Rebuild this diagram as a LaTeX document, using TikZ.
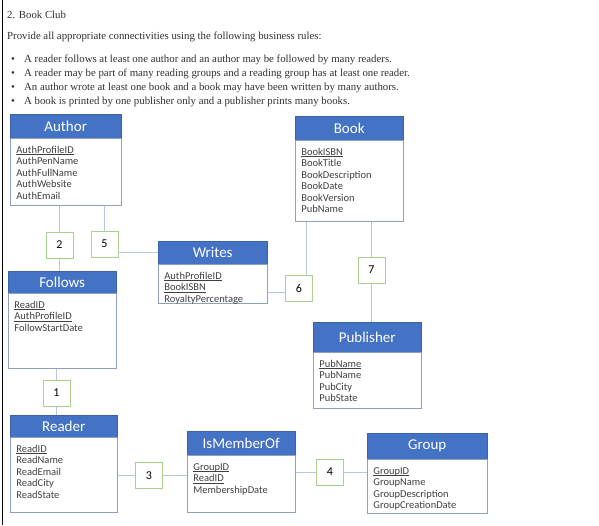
\documentclass[tikz,border=0pt]{standalone}
\usepackage{fontspec}
\setmainfont{Liberation Serif}
\newfontfamily\erdfont{Carlito}
\usepackage{tikz}
\usetikzlibrary{positioning,calc}

\definecolor{hdrblue}{HTML}{4472C4}
\definecolor{hdredge}{HTML}{3A62AA}
\definecolor{listedge}{HTML}{8EA0BC}
\definecolor{linkblue}{HTML}{B4C7E7}
\definecolor{relgreen}{HTML}{A9D18E}
\definecolor{bodytext}{HTML}{404040}
\definecolor{prose}{HTML}{303030}

% key attribute, underlined close to the baseline
\newcommand\pkey[1]{\leavevmode\setbox0\hbox{#1}\rlap{\rule[-1.3pt]{\wd0}{0.45pt}}\box0}

\begin{document}
\begin{tikzpicture}[
  x=1pt, y=-1pt,
  every node/.style={inner sep=0pt},
  prose/.style={anchor=base west, text=prose, font=\fontsize{10.8}{12}\selectfont},
  ent/.style={draw=hdredge, fill=hdrblue, text=white, anchor=north west,
    font=\erdfont\fontsize{15}{16}\selectfont},
  attrs/.style={draw=listedge, line width=0.8pt, fill=white, align=left,
    inner xsep=6pt, text height=14.5pt, text=bodytext,
    font=\erdfont\fontsize{10.5}{11.5}\selectfont},
  rel/.style={draw=relgreen, line width=0.8pt, fill=white, minimum width=27pt,
    minimum height=26pt, font=\erdfont\fontsize{12}{12}\selectfont},
  link/.style={draw=linkblue, line width=1pt}
]
\useasboundingbox (0,0) rectangle (599,525);
\draw[black, line width=0.8pt] (2,0) -- (2,525);

% business rules
\node[prose] (title) at (7,18) {2. Book Club};
\node[prose] (intro) at (7,39) {Provide all appropriate connectivities using the following business rules:};
\node[prose] (rule1) at (11,62) {\makebox[13pt][l]{\textbullet}A reader follows at least one author and an author may be followed by many readers.};
\node[prose] (rule2) at (11,76) {\makebox[13pt][l]{\textbullet}A reader may be part of many reading groups and a reading group has at least one reader.};
\node[prose] (rule3) at (11,90) {\makebox[13pt][l]{\textbullet}An author wrote at least one book and a book may have been written by many authors.};
\node[prose] (rule4) at (11,104) {\makebox[13pt][l]{\textbullet}A book is printed by one publisher only and a publisher prints many books.};

% entities
\node[ent, minimum width=111pt, minimum height=24pt] (author) at (10,114) {Author};
\node[attrs, text width=99pt, text depth=52.5pt, below right=0pt and 0pt of author.south west] (authorList)
  {\pkey{AuthProfileID}\\AuthPenName\\AuthFullName\\AuthWebsite\\AuthEmail};

\node[ent, minimum width=108pt, minimum height=24pt] (book) at (295,116) {Book};
\node[attrs, text width=96pt, text depth=66.5pt, below right=0pt and 0pt of book.south west] (bookList)
  {\pkey{BookISBN}\\BookTitle\\BookDescription\\BookDate\\BookVersion\\PubName};

\node[ent, minimum width=109pt, minimum height=23pt] (writes) at (158,241) {Writes};
\node[attrs, text width=97pt, text depth=24.5pt, below right=0pt and 0pt of writes.south west] (writesList)
  {\pkey{AuthProfileID}\\\pkey{BookISBN}\\RoyaltyPercentage};

\node[ent, minimum width=108pt, minimum height=22pt] (follows) at (8,271) {Follows};
\node[attrs, text width=96pt, text depth=60.5pt, below right=0pt and 0pt of follows.south west] (followsList)
  {\pkey{ReadID}\\\pkey{AuthProfileID}\\FollowStartDate};

\node[ent, minimum width=108pt, minimum height=30pt] (publisher) at (313,322) {Publisher};
\node[attrs, text width=96pt, text depth=41.5pt, below right=0pt and 0pt of publisher.south west] (publisherList)
  {\pkey{PubName}\\PubName\\PubCity\\PubState};

\node[ent, minimum width=107pt, minimum height=22pt] (reader) at (10,415) {Reader};
\node[attrs, text width=95pt, text depth=60.5pt, below right=0pt and 0pt of reader.south west] (readerList)
  {\pkey{ReadID}\\ReadName\\ReadEmail\\ReadCity\\ReadState};

\node[ent, minimum width=108pt, minimum height=24pt] (member) at (187,431) {IsMemberOf};
\node[attrs, text width=96pt, text depth=42.5pt, below right=0pt and 0pt of member.south west] (memberList)
  {\pkey{GroupID}\\\pkey{ReadID}\\MembershipDate};

\node[ent, minimum width=120pt, minimum height=26pt] (group) at (367,433) {Group};
\node[attrs, text width=108pt, text depth=39.5pt, below right=0pt and 0pt of group.south west] (groupList)
  {\pkey{GroupID}\\GroupName\\GroupDescription\\GroupCreationDate};

% relationships
\node[rel] (rel1) at (56.5,393) {1};
\node[rel] (rel2) at (59.5,245) {2};
\node[rel] (rel3) at (149,475.5) {3};
\node[rel] (rel4) at (330,472) {4};
\node[rel] (rel5) at (104.5,244) {5};
\node[rel] (rel6) at (299,288) {6};
\node[rel] (rel7) at (371.5,270) {7};

\draw[link] (rel1.north) -- (rel1.north |- followsList.south);
\draw[link] (rel1.south) -- (rel1.south |- reader.north);
\draw[link] (rel2.north) -- (rel2.north |- authorList.south);
\draw[link] (rel2.south) -- (rel2.south |- follows.north);
\draw[link] (rel3.west) -- (rel3.west -| readerList.east);
\draw[link] (rel3.east) -- (rel3.east -| memberList.west);
\draw[link] (rel4.west) -- (rel4.west -| memberList.east);
\draw[link] (rel4.east) -- (rel4.east -| groupList.west);
\draw[link] (rel5.north) -- (rel5.north |- authorList.south);
\draw[link] (writes.west) -- (writes.west -| rel5.east);
\draw[link] ([yshift=-4pt]rel6.west) -- ([yshift=-4pt]rel6.west -| writesList.east);
\draw[link] ([xshift=7pt]rel6.north) -- ([xshift=7pt]rel6.north |- bookList.south);
\draw[link] (rel7.north) -- (rel7.north |- bookList.south);
\draw[link] (rel7.south) -- (rel7.south |- publisher.north);

\end{tikzpicture}
\end{document}
